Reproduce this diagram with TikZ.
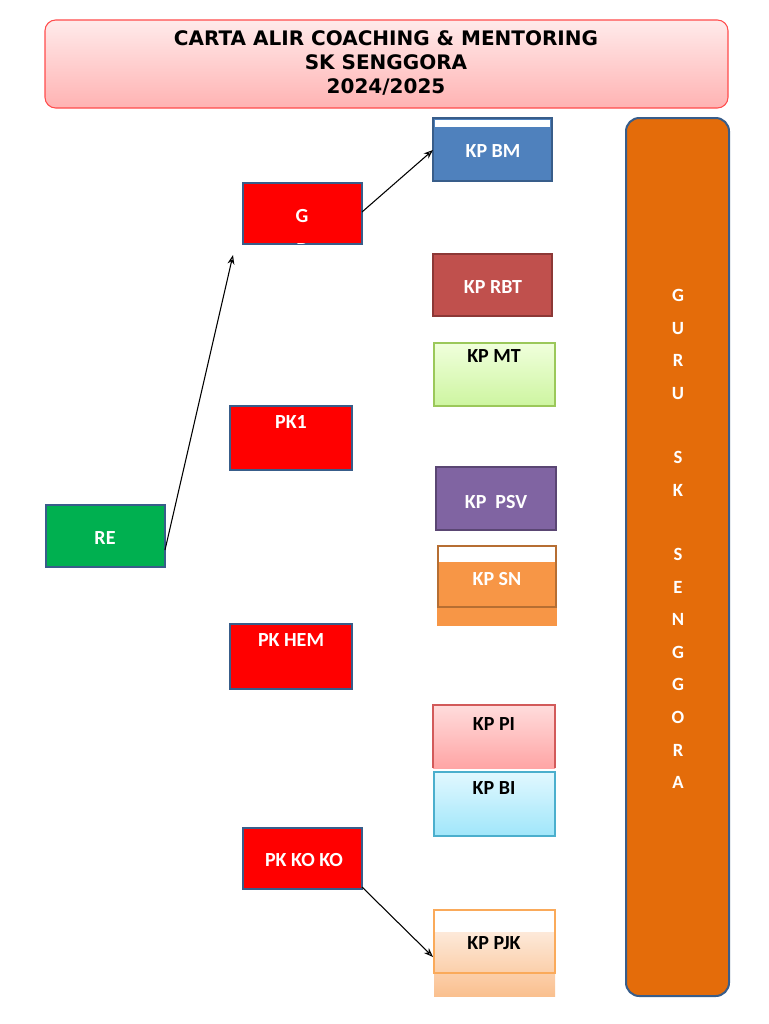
\documentclass[tikz,border=0pt]{standalone}
\usepackage{fontspec}
\usetikzlibrary{arrows.meta}
\setmainfont{Carlito}
\newfontfamily\titlefont{DejaVu Sans}
\definecolor{frame}{HTML}{385D8A}
\definecolor{guruor}{RGB}{228,108,10}
\definecolor{regreen}{RGB}{0,176,80}
\definecolor{bmblue}{RGB}{79,129,189}
\definecolor{rbtred}{RGB}{192,80,77}
\definecolor{rbtdark}{RGB}{140,56,54}
\definecolor{mttop}{RGB}{240,255,220}
\definecolor{mtbot}{RGB}{205,245,160}
\definecolor{mtline}{RGB}{155,200,90}
\definecolor{psvfill}{RGB}{128,100,162}
\definecolor{psvline}{RGB}{90,70,115}
\definecolor{snfill}{RGB}{247,150,70}
\definecolor{snline}{RGB}{182,110,50}
\definecolor{pitop}{RGB}{255,220,220}
\definecolor{pibot}{RGB}{255,165,165}
\definecolor{piline}{RGB}{210,90,90}
\definecolor{bitop}{RGB}{225,248,255}
\definecolor{bibot}{RGB}{160,230,250}
\definecolor{biline}{RGB}{75,175,205}
\definecolor{pjktop}{RGB}{253,233,217}
\definecolor{pjkbot}{RGB}{250,192,143}
\definecolor{pjkline}{RGB}{250,170,90}
\begin{document}
\begin{tikzpicture}[x=0.75pt,y=-0.75pt,
 wt/.style={text=white,font=\bfseries\fontsize{15}{18}\selectfont,anchor=center},
 bt/.style={text=black,font=\bfseries\fontsize{15}{18}\selectfont,anchor=center},
 ar/.style={-{Stealth[open,length=7pt]},line width=0.8pt}]
\useasboundingbox (0,0) rectangle (768,1024);
% title
\shade[top color=red!8,bottom color=red!30,draw=red!70,rounded corners=8pt,line width=0.8pt] (45,20) rectangle (728,108);
\node[font=\titlefont\bfseries\fontsize{15}{18}\selectfont,align=center] (title) at (386,63) {CARTA ALIR COACHING \& MENTORING\\SK SENGGORA\\2024/2025};
% guru column
\filldraw[fill=guruor,draw=frame,line width=1.5pt,rounded corners=10pt] (626,118) rectangle (729,996);
\node[font=\bfseries\fontsize{14}{24.4}\selectfont,text=white,align=center] (guru) at (678,539) {G\\U\\R\\U\\[24pt]S\\K\\[24pt]S\\E\\N\\G\\G\\O\\R\\A};
% RE
\filldraw[fill=regreen,draw=frame,line width=1.5pt] (46,505) rectangle (165,567);
\node[wt] (re) at (105,538) {RE};
\coordinate (reA) at (165,550);
% GB
\filldraw[fill=red,draw=frame,line width=1.5pt] (243,183) rectangle (362,244);
\node[wt] (gb) at (302,216) {G};
\begin{scope}\clip (243,183) rectangle (361,243);
\node[wt] (gbb) at (302,250) {B};\end{scope}
\coordinate (gbIn) at (233,255);
\coordinate (gbOut) at (362,212);
% PK1, PK HEM, PK KO KO
\filldraw[fill=red,draw=frame,line width=1.5pt] (230,406) rectangle (352,470);
\node[wt] (pk1) at (291,422) {PK1};
\filldraw[fill=red,draw=frame,line width=1.5pt] (230,624) rectangle (352,689);
\node[wt] (pkhem) at (291,640) {PK HEM};
\filldraw[fill=red,draw=frame,line width=1.5pt] (243,828) rectangle (362,889);
\node[wt] (pkko) at (304,860) {PK KO KO};
\coordinate (pkkoOut) at (362,887);
% KP BM
\filldraw[fill=bmblue,draw=frame,line width=1.5pt] (433,118) rectangle (552,181);
\fill[white] (435,120) rectangle (550,127);
\node[wt] (bm) at (493,151) {KP BM};
\coordinate (bmIn) at (433,150);
% KP RBT
\filldraw[fill=rbtred,draw=rbtdark,line width=1.5pt] (433,254) rectangle (552,316);
\node[wt] (rbt) at (493,287) {KP RBT};
% KP MT
\shade[top color=mttop,bottom color=mtbot] (434,343) rectangle (555,406);
\draw[mtline,line width=0.8pt] (434,343) rectangle (555,406);
\node[bt] (mt) at (494,356) {KP MT};
% KP PSV
\filldraw[fill=psvfill,draw=psvline,line width=1.5pt] (436,467) rectangle (556,530);
\node[wt] (psv) at (496,502) {KP\ \ PSV};
% KP SN
\fill[snfill] (437,545) rectangle (557,626);
\fill[white] (439,547) rectangle (555,562);
\draw[snline,line width=1.5pt] (438,546) rectangle (556,607);
\node[wt] (sn) at (497,579) {KP SN};
% KP PI
\shade[top color=pitop,bottom color=pibot] (433,705) rectangle (555,768);
\draw[piline,line width=0.8pt] (433,768)--(433,705)--(555,705)--(555,768);
\node[bt] (pi) at (494,724) {KP PI};
% KP BI
\shade[top color=bitop,bottom color=bibot] (434,772) rectangle (555,836);
\draw[biline,line width=0.8pt] (434,772) rectangle (555,836);
\node[bt] (bi) at (494,788) {KP BI};
% KP PJK
\shade[top color=pjktop,bottom color=pjkbot] (434,932) rectangle (555,996);
\draw[pjkline,line width=0.8pt] (434,910) rectangle (555,973);
\node[bt] (pjk) at (494,943) {KP PJK};
\coordinate (pjkIn) at (433,957);
% arrows
\draw[ar] (reA) -- (gbIn);
\draw[ar] (gbOut) -- (bmIn);
\draw[ar] (pkkoOut) -- (pjkIn);
\end{tikzpicture}
\end{document}
